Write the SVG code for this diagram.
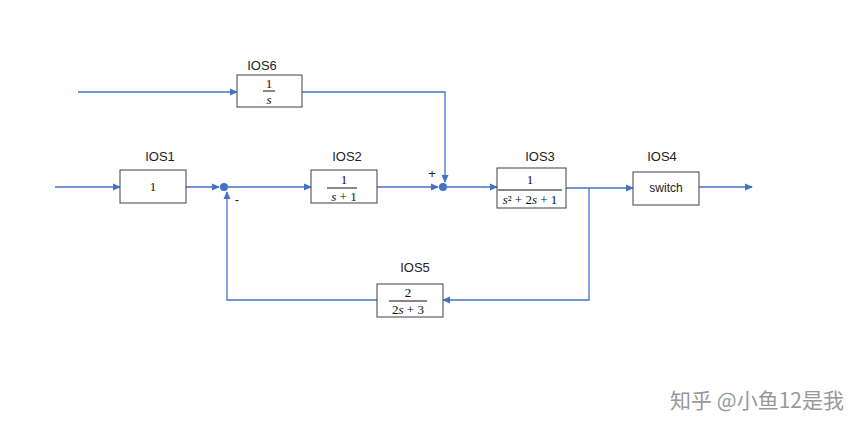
<svg xmlns="http://www.w3.org/2000/svg" width="868" height="434" viewBox="0 0 868 434">
<style>
.b{fill:#fff;stroke:#404040;stroke-width:1}
.l{fill:#222;font-family:"Liberation Sans",sans-serif;font-size:13px;text-anchor:middle}
.m{fill:#111;font-family:"Liberation Serif",serif;font-size:13px;text-anchor:middle}
.mi{font-style:italic}
.c{fill:none;stroke:#4472c4;stroke-width:1.3;marker-end:url(#a)}
.fr{stroke:#111;stroke-width:1}
</style>
<defs><marker id="a" markerWidth="8" markerHeight="8" refX="7" refY="4" orient="auto" markerUnits="userSpaceOnUse"><path d="M0,0.5 L8,4 L0,7.5z" fill="#4472c4"/></marker></defs>
<rect width="868" height="434" fill="#fff"/>
<g id="connectors">
<path class="c" d="M55,187 H120"/>
<path class="c" d="M186,187 H219"/>
<path class="c" d="M228,187 H311"/>
<path class="c" d="M377,187 H438"/>
<path class="c" d="M447,187 H497"/>
<path class="c" d="M566,188 H633"/>
<path class="c" d="M699,187 H752"/>
<path class="c" d="M78,92 H237"/>
<path class="c" d="M302,92 H445 V182"/>
<path class="c" d="M589,188 V300 H443"/>
<path class="c" d="M377,300 H227 V192"/>
<circle cx="224" cy="187" r="4" fill="#4472c4"/>
<circle cx="443" cy="187" r="4" fill="#4472c4"/>
<text x="432" y="178" class="l">+</text>
<text x="237" y="204" class="l">-</text>
</g>
<g id="IOS6"><text x="262" y="70" class="l">IOS6</text><rect class="b" x="237" y="75" width="65" height="32"/><text x="269" y="88" class="m">1</text><line class="fr" x1="263" y1="91" x2="275" y2="91"/><text x="269" y="104" class="m mi">s</text></g>
<g id="IOS1"><text x="160" y="161" class="l">IOS1</text><rect class="b" x="120" y="170" width="66" height="33"/><text x="153" y="191" class="m">1</text></g>
<g id="IOS2"><text x="347" y="161" class="l">IOS2</text><rect class="b" x="311" y="170" width="66" height="33"/><text x="344" y="184" class="m">1</text><line class="fr" x1="327" y1="188" x2="357" y2="188"/><text x="344" y="201" class="m"><tspan class="mi">s</tspan> + 1</text></g>
<g id="IOS3"><text x="540" y="161" class="l">IOS3</text><rect class="b" x="497" y="168" width="69" height="40"/><text x="530" y="184" class="m">1</text><line class="fr" x1="498" y1="190" x2="562" y2="190"/><text x="530" y="204" class="m"><tspan class="mi">s</tspan>² + 2<tspan class="mi">s</tspan> + 1</text></g>
<g id="IOS4"><text x="662" y="161" class="l">IOS4</text><rect class="b" x="633" y="172" width="66" height="33"/><text x="666" y="192" class="l" style="font-size:12px">switch</text></g>
<g id="IOS5"><text x="415" y="272" class="l">IOS5</text><rect class="b" x="377" y="284" width="66" height="33"/><text x="408" y="297" class="m">2</text><line class="fr" x1="389" y1="301" x2="427" y2="301"/><text x="408" y="314" class="m">2<tspan class="mi">s</tspan> + 3</text></g>
<text x="844" y="408" style="fill:#999;font-family:'Noto Sans CJK SC',sans-serif;font-size:21px;text-anchor:end">知乎 @小鱼12是我</text>
</svg>
